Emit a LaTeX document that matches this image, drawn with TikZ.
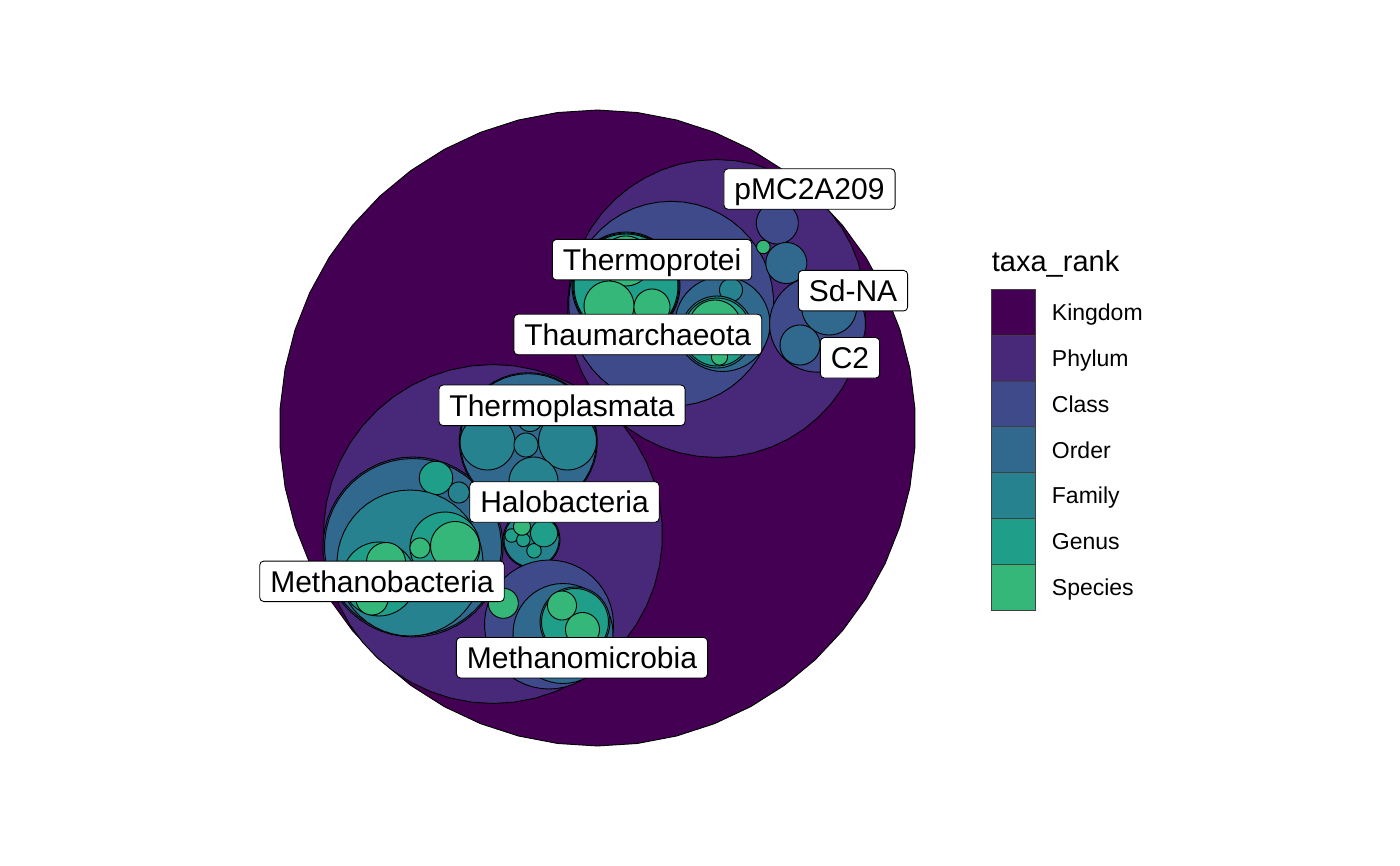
\documentclass[tikz,border=0pt]{standalone}
\usepackage{fontspec}
\setmainfont{Liberation Sans}
\definecolor{cK}{HTML}{440154}
\definecolor{cP}{HTML}{482878}
\definecolor{cC}{HTML}{3E4A89}
\definecolor{cO}{HTML}{31688E}
\definecolor{cF}{HTML}{26828E}
\definecolor{cG}{HTML}{1F9E89}
\definecolor{cS}{HTML}{35B779}
\newcommand\circpoly[4]{\filldraw[fill=#4, circline] plot[samples=51, domain=3.6:363.6, variable=\t] ({#1+#3*cos(\t)},{#2+#3*sin(\t)}) -- cycle;}
\tikzset{
  circline/.style={draw=black, line width=0.9pt, line join=round},
  lbl/.style={draw=black, fill=white, rounded corners=4pt, line width=0.9pt,
    font=\fontsize{30}{35}\selectfont, text height=21.5pt, text depth=0pt,
    inner xsep=10.5pt, inner ysep=9.5pt},
  legkey/.style={draw=black!75, line width=0.6pt},
  legtxt/.style={anchor=base west, inner sep=0pt, font=\fontsize{23}{27}\selectfont},
}
\begin{document}
\begin{tikzpicture}[x=1pt, y=-1pt]
\useasboundingbox (0,0) rectangle (1400,866);
% Kingdom
\circpoly{597.5}{428}{318}{cK}
% ---------- Phylum A (top right)
\circpoly{716.5}{308.5}{149}{cP}
\circpoly{671.2}{303.8}{102.5}{cC}
% Thermoprotei group
\circpoly{626}{286}{54}{cO}
\circpoly{626}{286}{53}{cF}
\circpoly{626}{286}{52}{cG}
\circpoly{626}{261}{25}{cS}
\circpoly{609}{306}{25}{cS}
\circpoly{652}{307}{18}{cS}
% Thaumarchaeota group
\circpoly{722.5}{324}{47.5}{cO}
\circpoly{731}{290}{11.5}{cF}
\circpoly{717}{332}{36}{cF}
\circpoly{717}{332}{34}{cG}
\circpoly{715}{326}{26}{cS}
\circpoly{719.5}{357}{8}{cS}
% right side
\circpoly{777.3}{223}{21}{cC}
\circpoly{763.3}{247}{6.7}{cS}
\circpoly{786.3}{263}{20.5}{cO}
\circpoly{817.5}{324.2}{48}{cC}
\circpoly{829.2}{307.5}{27.5}{cO}
\circpoly{800}{345}{20}{cO}
% ---------- Phylum B (bottom left)
\circpoly{493}{534}{169.5}{cP}
% Methanobacteria
\circpoly{413}{547}{90}{cC}
\circpoly{413}{547}{88.5}{cO}
\circpoly{436}{478}{16.7}{cG}
\circpoly{458.8}{492.5}{10.5}{cF}
\circpoly{410}{563}{73}{cF}
\circpoly{445}{547}{35}{cG}
\circpoly{455}{546}{24.5}{cS}
\circpoly{420}{548}{10}{cS}
\circpoly{379}{579}{37}{cG}
\circpoly{386}{562}{19.5}{cS}
\circpoly{372}{599}{16}{cS}
% Thermoplasmata
\circpoly{528.3}{441.7}{69}{cC}
\circpoly{528.3}{441.7}{68}{cO}
\circpoly{487.5}{442.5}{27.5}{cF}
\circpoly{567.5}{441}{29}{cF}
\circpoly{530}{419}{12.5}{cF}
\circpoly{526}{445}{12}{cF}
\circpoly{533.5}{481.5}{24.5}{cF}
% Halobacteria
\circpoly{531.5}{539.5}{28.5}{cO}
\circpoly{531.5}{539.5}{27.5}{cF}
\circpoly{511.7}{535.5}{6.7}{cG}
\circpoly{523.3}{540}{6.7}{cG}
\circpoly{534}{550.8}{7.2}{cG}
\circpoly{544}{533.3}{13.5}{cG}
\circpoly{522}{526.7}{8.5}{cS}
% Methanomicrobia
\circpoly{549}{624.5}{64.5}{cC}
\circpoly{503.3}{603.3}{15}{cS}
\circpoly{563}{633.5}{50}{cO}
\circpoly{575}{622}{35}{cF}
\circpoly{575}{622}{33.5}{cG}
\circpoly{562}{605.5}{14.5}{cS}
\circpoly{582.5}{629.5}{17}{cS}
% ---------- labels
\node[lbl] (lpmc) at (809.5,189) {pMC2A209};
\node[lbl] (lthp) at (652,259.7) {Thermoprotei};
\node[lbl] (lsdna) at (853,290.7) {Sd-NA};
\node[lbl] (lthau) at (637.8,334.5) {Thaumarchaeota};
\node[lbl] (lc2) at (850,357.8) {C2};
\node[lbl] (lthpl) at (562,405.3) {Thermoplasmata};
\node[lbl] (lhalo) at (564.5,502) {Halobacteria};
\node[lbl] (lmbac) at (382,581.3) {Methanobacteria};
\node[lbl] (lmmic) at (582,657.7) {Methanomicrobia};
% ---------- legend
\node[anchor=base west, inner sep=0pt, font=\fontsize{29}{34}\selectfont] (legtitle) at (991.7,271.7) {taxa\_rank};
\foreach \c/\t [count=\i from 0] in {cK/Kingdom, cP/Phylum, cC/Class, cO/Order, cF/Family, cG/Genus, cS/Species}{
  \filldraw[fill=\c, legkey] (991.7,{289.3+45.8*\i}) rectangle (1035.7,{289.3+45.8*(\i+1)});
  \node[legtxt] (leg\i) at (1051.7,{289.3+45.8*\i+22.9+8.5}) {\t};
}
\end{tikzpicture}
\end{document}
